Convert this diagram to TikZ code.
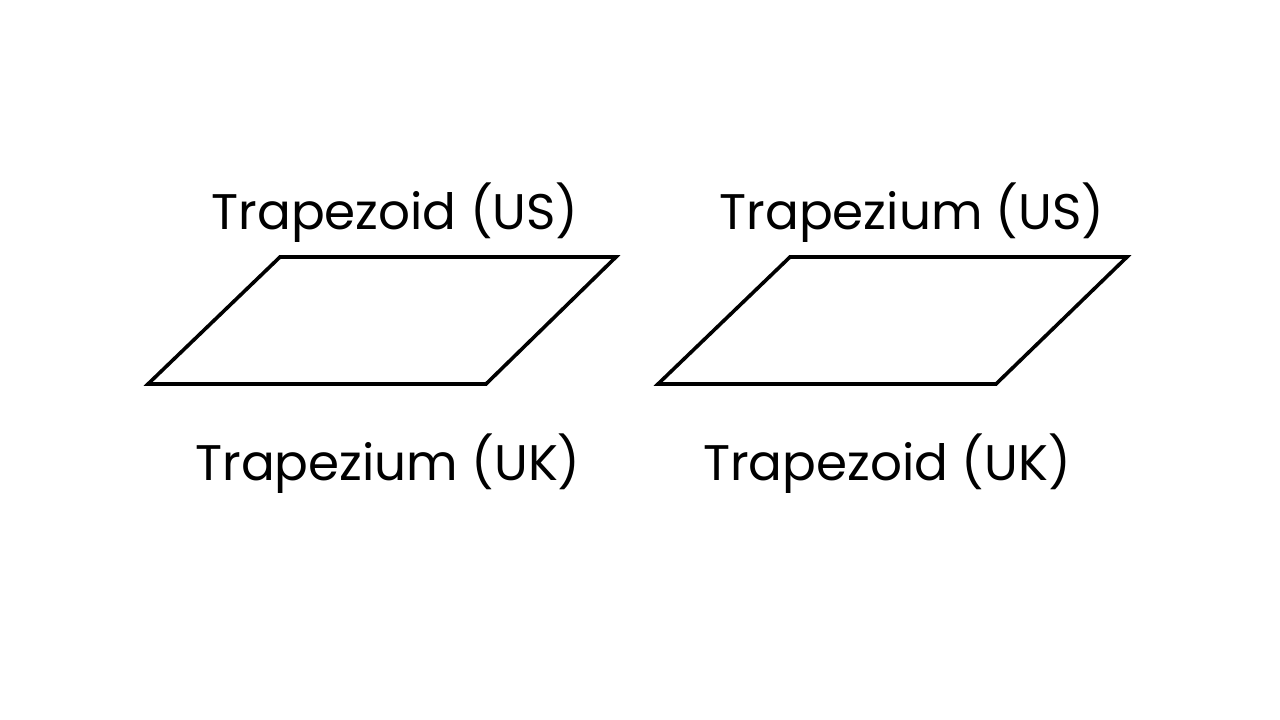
\documentclass[tikz,border=0pt]{standalone}
\usepackage{fontspec}
\setmainfont{Poppins}
\begin{document}
\begin{tikzpicture}[x=1pt,y=-1pt,
  quadline/.style={draw=black,line width=3.6pt,line join=miter},
  lbl/.style={anchor=base,inner sep=0pt,font=\fontsize{50}{60}\selectfont}]
\useasboundingbox (0,0) rectangle (1280,720);
\coordinate (a1) at (148,384);
\coordinate (a2) at (280,257);
\coordinate (a3) at (616,257);
\coordinate (a4) at (486,384);
\draw[quadline] (a1) -- (a2) -- (a3) -- (a4) -- cycle;
\coordinate (b1) at (658,384);
\coordinate (b2) at (790,257);
\coordinate (b3) at (1127,257);
\coordinate (b4) at (996,384);
\draw[quadline] (b1) -- (b2) -- (b3) -- (b4) -- cycle;
\node[lbl] (t1) at (395,229) {Trapezoid (US)};
\node[lbl] (u1) at (388,480) {Trapezium (UK)};
\node[lbl] (t2) at (912,229) {Trapezium (US)};
\node[lbl] (u2) at (887,480) {Trapezoid (UK)};
\end{tikzpicture}
\end{document}
